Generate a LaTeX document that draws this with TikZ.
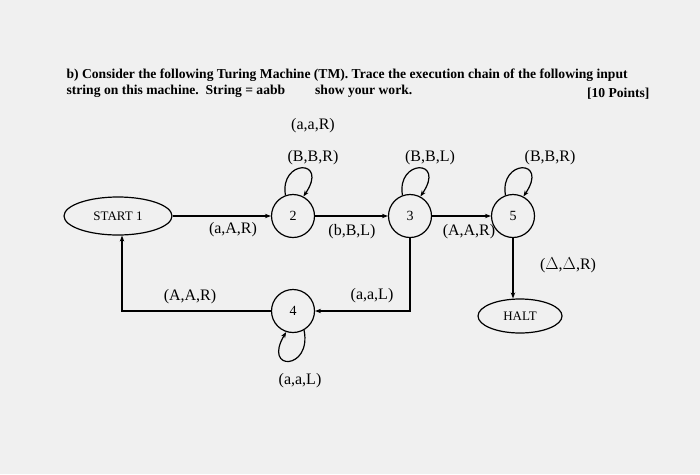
\documentclass[tikz,border=0pt]{standalone}
\usepackage{fontspec}
\setmainfont{Liberation Serif}
\usetikzlibrary{arrows.meta,shapes.geometric}
\begin{document}
\begin{tikzpicture}[x=1pt,y=-1pt,line width=1.2pt,
  st/.style={draw,circle,minimum size=43pt,inner sep=0pt,font=\fontsize{14}{15}\selectfont},
  lb/.style={font=\fontsize{16}{17}\selectfont},
  ed/.style={-{Stealth[length=6pt]}},
  lp/.style={-{Stealth[length=6pt]}},
  hd/.style={font=\bfseries\fontsize{13.6}{15}\selectfont,inner sep=0pt}]
\fill[gray!12] (0,0) rectangle (700,474);
\useasboundingbox (0,0) rectangle (700,474);
\node[anchor=west,hd] (h1) at (66,75) {b) Consider the following Turing Machine (TM). Trace the execution chain of the following input};
\node[anchor=west,hd] (h2) at (66,91) {string on this machine.\ \ String = aabb\hspace{30pt}show your work.};
\node[anchor=east,hd] (h3) at (650,94) {[10 Points]};
\node[draw,ellipse,minimum width=108pt,minimum height=38pt,font=\fontsize{13}{14}\selectfont] (s) at (118,216) {START 1};
\node[st] (n2) at (293,216) {2};
\node[st] (n3) at (410,216) {3};
\node[st] (n5) at (513,216) {5};
\node[st] (n4) at (293,311) {4};
\node[draw,ellipse,minimum width=84pt,minimum height=34pt,font=\fontsize{13}{14}\selectfont] (hl) at (520,316) {HALT};
\coordinate (c1) at (122,311);
\draw[ed] (s) -- (n2);
\draw[ed] (n2) -- (n3);
\draw[ed] (n3) -- (n5);
\draw[ed] (n5.south) -- (n5.south |- hl.north);
\draw[ed] (n3.south) |- (n4);
\draw[ed] (n4) -- (c1) -- (c1 |- s.south);
\draw[lp] (n2.110) .. controls +(-6,-36) and +(26,-38) .. (n2.62);
\draw[lp] (n3.110) .. controls +(-6,-36) and +(26,-38) .. (n3.62);
\draw[lp] (n5.110) .. controls +(-6,-36) and +(26,-38) .. (n5.62);
\draw[lp] (n4.-60) .. controls +(8,40) and +(-24,40) .. (n4.-108);
\node[lb] (l1) at (313,126) {(a,a,R)};
\node[lb] (l2) at (313,158) {(B,B,R)};
\node[lb] (l3) at (430,158) {(B,B,L)};
\node[lb] (l4) at (550,158) {(B,B,R)};
\node[lb] (l5) at (233,230) {(a,A,R)};
\node[lb] (l6) at (352,232) {(b,B,L)};
\node[lb] (l7) at (469,232) {(A,A,R)};
\node[lb] (l8) at (568,265) {($\Delta$,$\Delta$,R)};
\node[lb] (l9) at (190,297) {(A,A,R)};
\node[lb] (l10) at (372,296) {(a,a,L)};
\node[lb] (l11) at (300,381) {(a,a,L)};
\end{tikzpicture}
\end{document}
